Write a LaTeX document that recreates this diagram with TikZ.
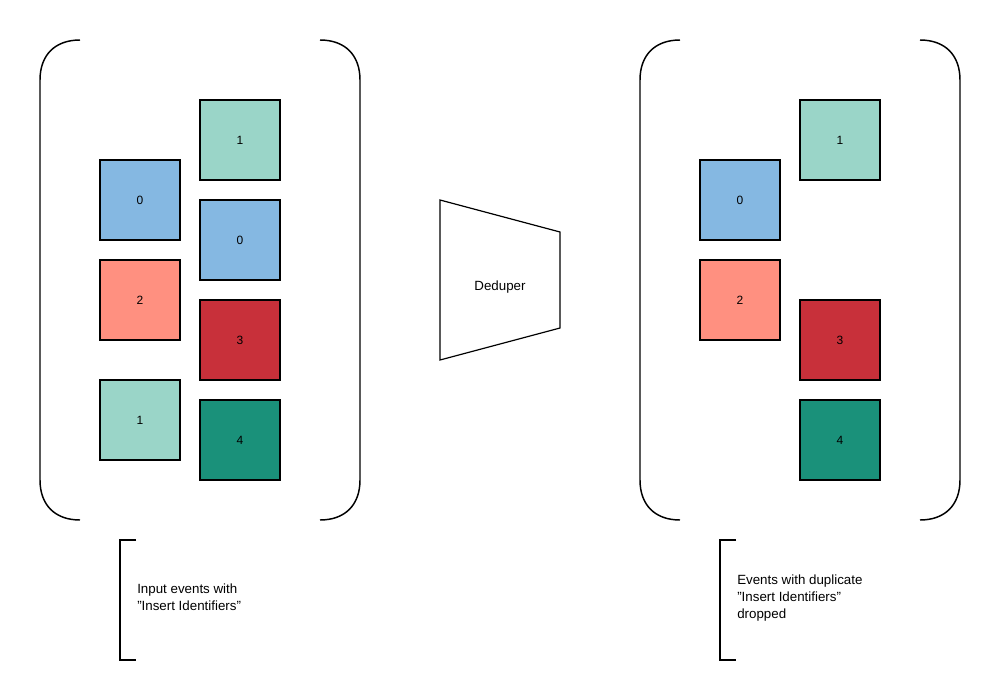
\documentclass[tikz,border=0pt]{standalone}
\usepackage{fontspec}
\setmainfont{Liberation Sans}
\begin{document}
\begin{tikzpicture}[x=0.75pt,y=-0.75pt,
  ev/.style={draw=black,line width=0.9pt,minimum size=60pt,inner sep=0pt,font=\fontsize{9}{11}\selectfont},
  br/.style={line width=1.1pt},
  lbl/.style={anchor=west,align=left,font=\fontsize{10}{12.5}\selectfont,inner sep=0pt}]
\definecolor{cb}{HTML}{85B8E2}\definecolor{cs}{HTML}{FF9080}
\definecolor{cm}{HTML}{9AD5C8}\definecolor{cr}{HTML}{C8303A}
\definecolor{ct}{HTML}{1A917A}
\useasboundingbox (0,0) rectangle (1000,700);
\foreach \o in {0,600}{
 \draw[br] (80+\o,40) .. controls (55+\o,40) and (40+\o,55) .. (40+\o,80) -- (40+\o,480) .. controls (40+\o,505) and (55+\o,520) .. (80+\o,520);
 \draw[br] (320+\o,40) .. controls (345+\o,40) and (360+\o,55) .. (360+\o,80) -- (360+\o,480) .. controls (360+\o,505) and (345+\o,520) .. (320+\o,520);
}
\node[ev,fill=cb] (a0) at (140,200) {0};
\node[ev,fill=cs] (a2) at (140,300) {2};
\node[ev,fill=cm] (a1) at (140,420) {1};
\node[ev,fill=cm] (b1) at (240,140) {1};
\node[ev,fill=cb] (b0) at (240,240) {0};
\node[ev,fill=cr] (b3) at (240,340) {3};
\node[ev,fill=ct] (b4) at (240,440) {4};
\node[ev,fill=cb] (c0) at (740,200) {0};
\node[ev,fill=cs] (c2) at (740,300) {2};
\node[ev,fill=cm] (d1) at (840,140) {1};
\node[ev,fill=cr] (d3) at (840,340) {3};
\node[ev,fill=ct] (d4) at (840,440) {4};
\draw[line width=0.9pt] (440,200) -- (560,232) -- (560,328) -- (440,360) -- cycle;
\node[font=\fontsize{10}{12}\selectfont] (dd) at (500,287) {Deduper};
\draw[br] (136,540) -- (120,540) -- (120,660) -- (136,660);
\draw[br] (736,540) -- (720,540) -- (720,660) -- (736,660);
\node[lbl] (t1) at (137,597) {Input events with\\"Insert Identifiers"};
\node[lbl] (t2) at (737,598) {Events with duplicate\\"Insert Identifiers"\\dropped};
\end{tikzpicture}
\end{document}
